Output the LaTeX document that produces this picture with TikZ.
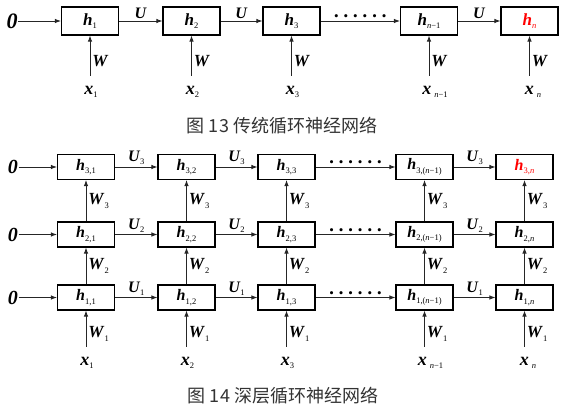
\documentclass[tikz,border=0pt]{standalone}
\usepackage{fontspec}
\setmainfont{Liberation Serif}
\newfontfamily\cjk{Noto Sans CJK SC}
\usetikzlibrary{arrows.meta}
\newcommand{\bi}[1]{\textbf{\textit{#1}}}
\newcommand{\sbs}[1]{\raisebox{-0.45ex}{\fontsize{8.5}{8.5}\selectfont #1}}
\newcommand{\nn}{\textit{n}}
\newcommand{\mydots}{\fontsize{13}{13}\selectfont \textbullet\hspace{5pt}\textbullet\hspace{5pt}\textbullet\hspace{5pt}\textbullet\hspace{5pt}\textbullet\hspace{5pt}\textbullet}
\begin{document}
\begin{tikzpicture}[x=1pt,y=-1pt,
  box/.style={draw=black, line width=1.1pt, minimum width=57pt, minimum height=28pt, inner sep=0pt, font=\fontsize{17}{17}\selectfont},
  sbox/.style={box, minimum height=25pt, font=\fontsize{16}{16}\selectfont},
  arr/.style={-{Latex[length=6pt,width=4.5pt]}, line width=0.9pt, draw=black!85},
  xarr/.style={arr, shorten <=10pt},
  ulab/.style={font=\fontsize{16}{16}\selectfont, inner sep=1.5pt, above},
  wlab/.style={font=\fontsize{17}{17}\selectfont, inner sep=2pt, right},
  xlab/.style={font=\fontsize{18}{18}\selectfont, inner sep=0pt, anchor=base, text height=8pt, text depth=0pt},
  zlab/.style={font=\fontsize{22}{22}\selectfont, inner sep=0.5pt},
  dlab/.style={inner sep=0pt, above},
  captext/.style={font=\cjk\fontsize{18}{18}\selectfont, text=black!80, inner sep=0pt}
]
\useasboundingbox (0,0) rectangle (567,412);
% ---------- top diagram ----------
\node[zlab] (z0) at (12,21) {\bi{0}};
\node[box] (t1) at (90,21) {\bi{h}\sbs{1}};
\node[box] (t2) at (191.5,21) {\bi{h}\sbs{2}};
\node[box] (t3) at (291.5,21) {\bi{h}\sbs{3}};
\node[box] (t4) at (429,21) {\bi{h}\sbs{\nn−1}};
\node[box] (t5) at (529.5,21) {\color{red}\bi{h}\sbs{\nn}};
\draw[arr] (z0) -- (t1);
\draw[arr] (t1) -- node[ulab]{\bi{U}} (t2);
\draw[arr] (t2) -- node[ulab]{\bi{U}} (t3);
\draw[arr] (t3) -- node[dlab]{\mydots} (t4);
\draw[arr] (t4) -- node[ulab]{\bi{U}} (t5);
\node[xlab] (tx1) at (91,94) {\bi{x}\sbs{1}};
\node[xlab] (tx2) at (192.5,94) {\bi{x}\sbs{2}};
\node[xlab] (tx3) at (292.5,94) {\bi{x}\sbs{3}};
\node[xlab] (tx4) at (435,94) {\bi{x}\,\sbs{\nn−1}};
\node[xlab] (tx5) at (533,94) {\bi{x}\,\sbs{\nn}};
\draw[xarr] (tx1.north -| t1.south) -- node[wlab]{\bi{W}} (t1.south);
\draw[xarr] (tx2.north -| t2.south) -- node[wlab]{\bi{W}} (t2.south);
\draw[xarr] (tx3.north -| t3.south) -- node[wlab]{\bi{W}} (t3.south);
\draw[xarr] (tx4.north -| t4.south) -- node[wlab]{\bi{W}} (t4.south);
\draw[xarr] (tx5.north -| t5.south) -- node[wlab]{\bi{W}} (t5.south);
\node[captext] (cap1) at (282,126) {图 13 传统循环神经网络};
% ---------- bottom diagram ----------
\foreach \r/\y in {1/297.5, 2/234.5, 3/167} {
  \node[zlab, font=\fontsize{20}{20}\selectfont] (z\r) at (13,\y) {\bi{0}};
  \node[sbox] (b\r1) at (86,\y) {\bi{h}\sbs{\r,1}};
  \node[sbox] (b\r2) at (186.5,\y) {\bi{h}\sbs{\r,2}};
  \node[sbox] (b\r3) at (286.5,\y) {\bi{h}\sbs{\r,3}};
  \node[sbox] (b\r4) at (424.5,\y) {\bi{h}\sbs{\r,(\nn−1)}};
  \draw[arr] (z\r) -- (b\r1);
  \draw[arr] (b\r1) -- node[ulab]{\bi{U}\sbs{\r}} (b\r2);
  \draw[arr] (b\r2) -- node[ulab]{\bi{U}\sbs{\r}} (b\r3);
  \draw[arr] (b\r3) -- node[dlab]{\mydots} (b\r4);
}
\node[sbox] (b15) at (524.5,297.5) {\bi{h}\sbs{1,\nn}};
\node[sbox] (b25) at (524.5,234.5) {\bi{h}\sbs{2,\nn}};
\node[sbox] (b35) at (524.5,167) {\color{red}\bi{h}\sbs{3,\nn}};
\foreach \r in {1,2,3} {
  \draw[arr] (b\r4) -- node[ulab]{\bi{U}\sbs{\r}} (b\r5);
}
\foreach \c in {1,...,5} {
  \draw[arr] (b1\c) -- node[wlab]{\bi{W}\sbs{2}} (b2\c);
  \draw[arr] (b2\c) -- node[wlab]{\bi{W}\sbs{3}} (b3\c);
}
\node[xlab] (bx1) at (87,365) {\bi{x}\sbs{1}};
\node[xlab] (bx2) at (187.5,365) {\bi{x}\sbs{2}};
\node[xlab] (bx3) at (287.5,365) {\bi{x}\sbs{3}};
\node[xlab] (bx4) at (430.5,365) {\bi{x}\,\sbs{\nn−1}};
\node[xlab] (bx5) at (528,365) {\bi{x}\,\sbs{\nn}};
\foreach \c in {1,...,5} {
  \draw[xarr] (bx\c.north -| b1\c.south) -- node[wlab]{\bi{W}\sbs{1}} (b1\c.south);
}
\node[captext] (cap2) at (283,396) {图 14 深层循环神经网络};
\end{tikzpicture}
\end{document}
